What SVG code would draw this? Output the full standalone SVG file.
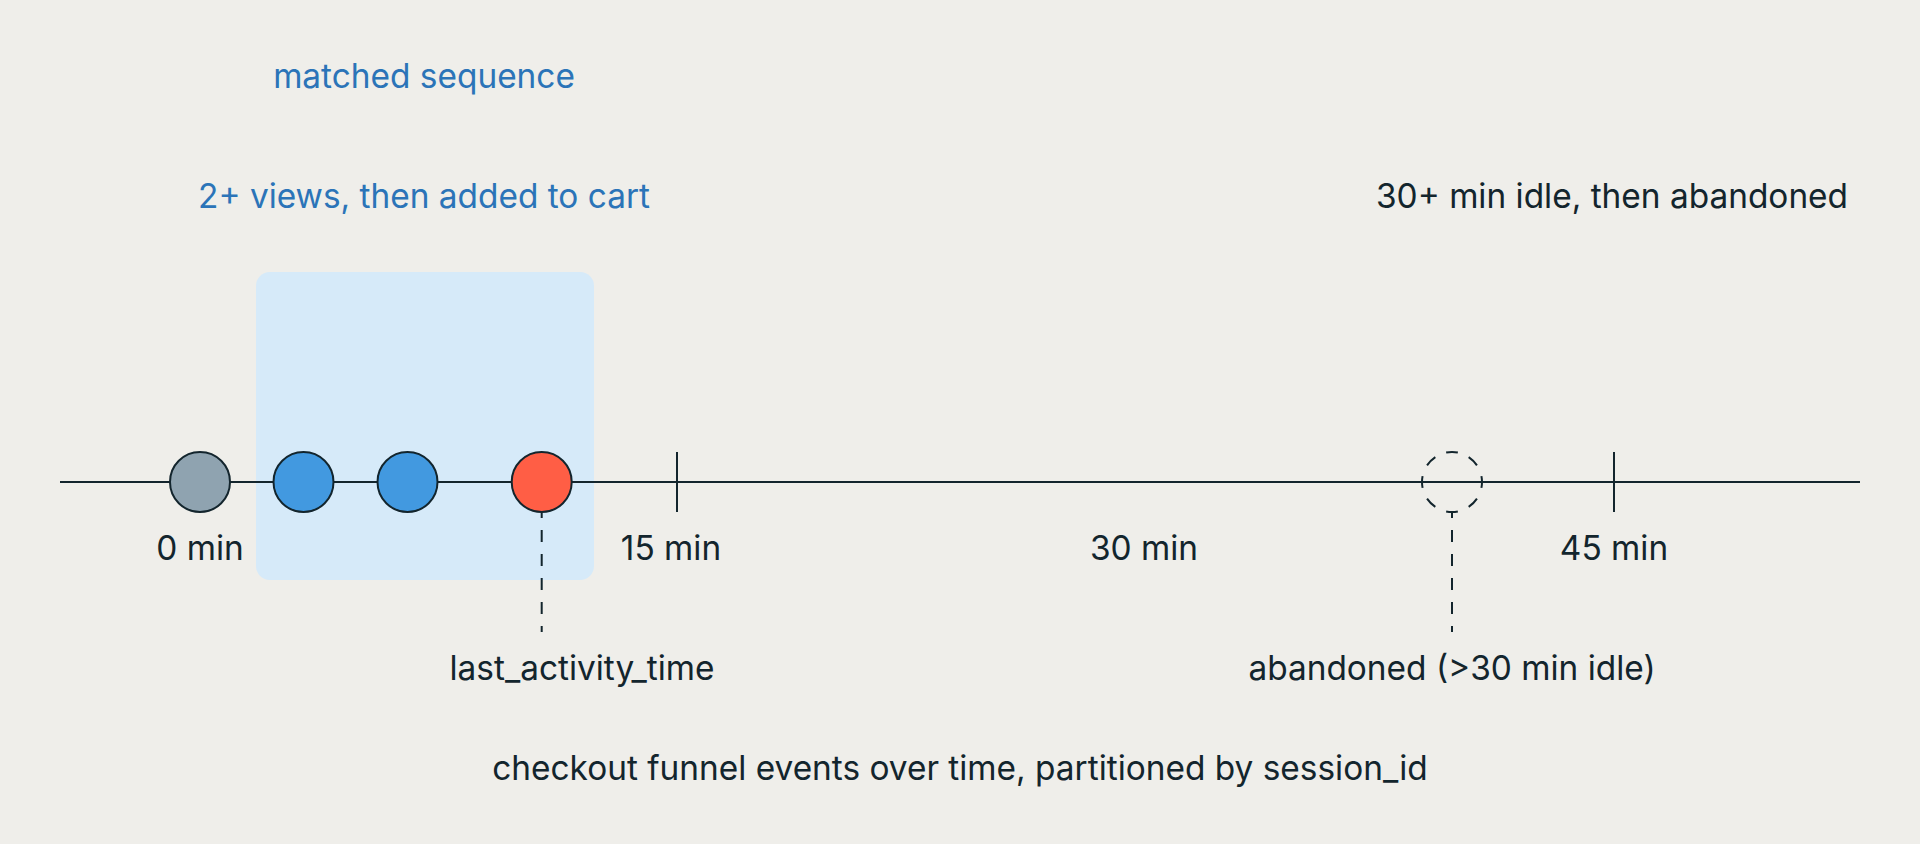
<svg xmlns="http://www.w3.org/2000/svg" width="1920" height="844" viewBox="0 0 1920 844">
<style>
.t{font-family:Inter,"Liberation Sans",sans-serif;font-size:33.4px;fill:#13252D;text-anchor:middle}
.b{fill:#2B74B8}
.ax{stroke:#13252D;stroke-width:2;fill:none}
.ev{stroke:#13252D;stroke-width:2}
.dash{stroke:#13252D;stroke-width:2;stroke-dasharray:12 12;stroke-dashoffset:6;fill:none}
</style>
<rect width="1920" height="844" fill="#EFEEEA"/>
<g id="window">
<rect x="256" y="272" width="338" height="308" rx="14" fill="#D6EAF9"/>
<text class="t b" x="424" y="88">matched sequence</text>
<text class="t b" x="424" y="208">2+ views, then added to cart</text>
</g>
<g id="axis">
<line class="ax" x1="60" y1="482" x2="1860" y2="482"/>
<line class="ax" x1="677" y1="452" x2="677" y2="512"/>
<line class="ax" x1="1614" y1="452" x2="1614" y2="512"/>
<text class="t" x="200" y="560">0 min</text>
<text class="t" x="671" y="560">15 min</text>
<text class="t" x="1144" y="560">30 min</text>
<text class="t" x="1614" y="560">45 min</text>
</g>
<g id="connectors">
<line class="dash" x1="541.7" y1="512" x2="541.7" y2="632"/>
<line class="dash" x1="1452" y1="512" x2="1452" y2="632"/>
</g>
<g id="event-start"><circle class="ev" cx="200" cy="482" r="30" fill="#8FA3B0"/></g>
<g id="event-view-1"><circle class="ev" cx="303.5" cy="482" r="30" fill="#4299E0"/></g>
<g id="event-view-2"><circle class="ev" cx="407.5" cy="482" r="30" fill="#4299E0"/></g>
<g id="event-cart">
<circle class="ev" cx="541.7" cy="482" r="30" fill="#FF5E45"/>
<text class="t" x="582" y="680">last_activity_time</text>
</g>
<g id="event-abandoned">
<circle cx="1452" cy="482" r="30" fill="none" stroke="#13252D" stroke-width="2" pathLength="8" stroke-dasharray="0.5 0.5" stroke-dashoffset="0.25"/>
<text class="t" x="1452" y="680">abandoned (&gt;30 min idle)</text>
<text class="t" x="1612" y="208">30+ min idle, then abandoned</text>
</g>
<text class="t" x="960" y="780">checkout funnel events over time, partitioned by session_id</text>
</svg>
